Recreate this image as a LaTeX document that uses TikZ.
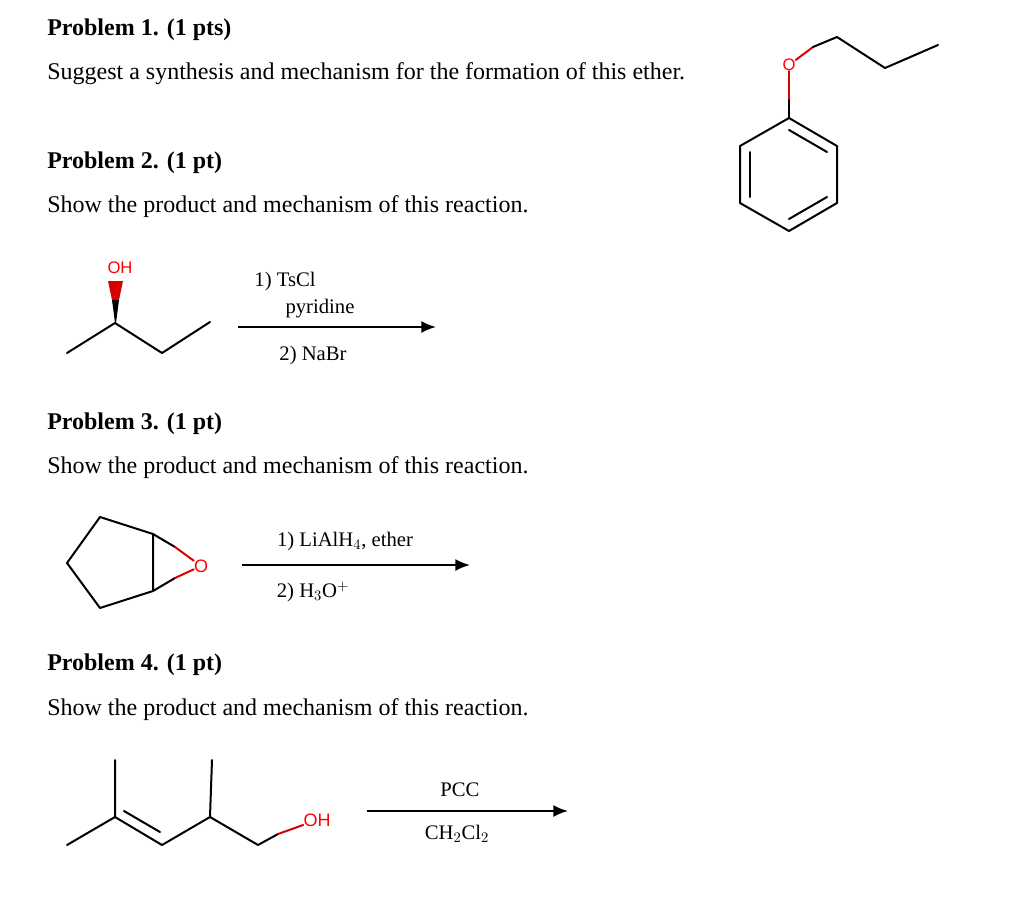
\documentclass[tikz,border=0pt]{standalone}
\usepackage{fontspec}
\setmainfont{Liberation Serif}
\newfontfamily\chemsans{Liberation Sans}
\usetikzlibrary{arrows.meta}
\begin{document}
\begin{tikzpicture}[x=0.75pt,y=-0.75pt,
  txt/.style={anchor=west,inner sep=0pt,font=\fontsize{18}{21}\selectfont},
  hd/.style={txt,font=\fontsize{18}{21}\selectfont\bfseries},
  reag/.style={inner sep=0pt,font=\fontsize{15.5}{18}\selectfont},
  atom/.style={inner sep=0pt,text=red,font=\chemsans\fontsize{12.5}{14}\selectfont},
  bd/.style={line width=1.5pt,line cap=round,line join=round},
  rbd/.style={bd,red!85!black},
  rx/.style={line width=1.4pt,-{Latex[length=11pt,width=9pt]}}]
\useasboundingbox (0,0) rectangle (1024,896);
\node[hd] (h1) at (47,30) {Problem 1. (1 pts)};
\node[txt] (t1) at (47,74) {Suggest a synthesis and mechanism for the formation of this ether.};
\node[hd] (h2) at (47,163) {Problem 2. (1 pt)};
\node[txt] (t2) at (47,207) {Show the product and mechanism of this reaction.};
\node[hd] (h3) at (47,424) {Problem 3. (1 pt)};
\node[txt] (t3) at (47,468) {Show the product and mechanism of this reaction.};
\node[hd] (h4) at (47,665) {Problem 4. (1 pt)};
\node[txt] (t4) at (47,710) {Show the product and mechanism of this reaction.};
% ether
\node[atom] (O1) at (789,65) {O};
\draw[rbd] (O1) -- (813,47);
\draw[bd] (813,47) -- (837,37) -- (885,68) -- (938,45);
\draw[rbd] (O1) -- (789,100);
\draw[bd] (789,100) -- (789,118);
\draw[bd] (789,118) -- (837,146) -- (837,203) -- (789,231) -- (740,203) -- (740,146) -- cycle;
\draw[bd] (789,130) -- (827,152);
\draw[bd] (750,152) -- (750,197);
\draw[bd] (789,219) -- (827,197);
% problem 2
\node[atom] (OH2) at (120,268) {OH};
\fill[red!85!black] (108,281) -- (123,281) -- (119,300) -- (112,300) -- cycle;
\fill[black] (112,300) -- (119,300) -- (116,323) -- (115,323) -- cycle;
\draw[bd] (67,353) -- (115,323) -- (162,353) -- (210,322);
\coordinate (a2s) at (238,327); \coordinate (a2e) at (436,327);
\draw[rx] (a2s) -- (a2e);
\node[reag] (r2a) at (285,282) {1) TsCl};
\node[reag] (r2b) at (320,309) {pyridine};
\node[reag] (r2c) at (313,356) {2) NaBr};
% problem 3
\node[atom,font=\chemsans\fontsize{13.5}{15}\selectfont] (O3) at (201,566) {O};
\draw[bd] (153,534) -- (100,517) -- (67,563) -- (100,608) -- (153,591) -- cycle;
\draw[bd] (153,534) -- (175,547);
\draw[rbd] (175,547) -- (O3);
\draw[bd] (153,591) -- (175,578);
\draw[rbd] (175,578) -- (O3);
\coordinate (a3s) at (242,565); \coordinate (a3e) at (470,565);
\draw[rx] (a3s) -- (a3e);
\node[reag] (r3a) at (345,542) {1) LiAlH$_4$, ether};
\node[reag] (r3b) at (313,592) {2) H$_3$O$^+$};
% problem 4
\node[atom,font=\chemsans\fontsize{13.5}{15}\selectfont] (OH4) at (317,820) {OH};
\draw[bd] (67,845) -- (115,817) -- (115,760);
\draw[bd] (115,817) -- (162,845) -- (210,817) -- (212,760);
\draw[bd] (124,811) -- (160,832);
\draw[bd] (210,817) -- (258,845) -- (278,834);
\draw[rbd] (278,834) -- (OH4);
\coordinate (a4s) at (367,811); \coordinate (a4e) at (568,811);
\draw[rx] (a4s) -- (a4e);
\node[reag] (r4a) at (460,790) {PCC};
\node[reag] (r4b) at (457,834) {CH$_2$Cl$_2$};
\end{tikzpicture}
\end{document}
